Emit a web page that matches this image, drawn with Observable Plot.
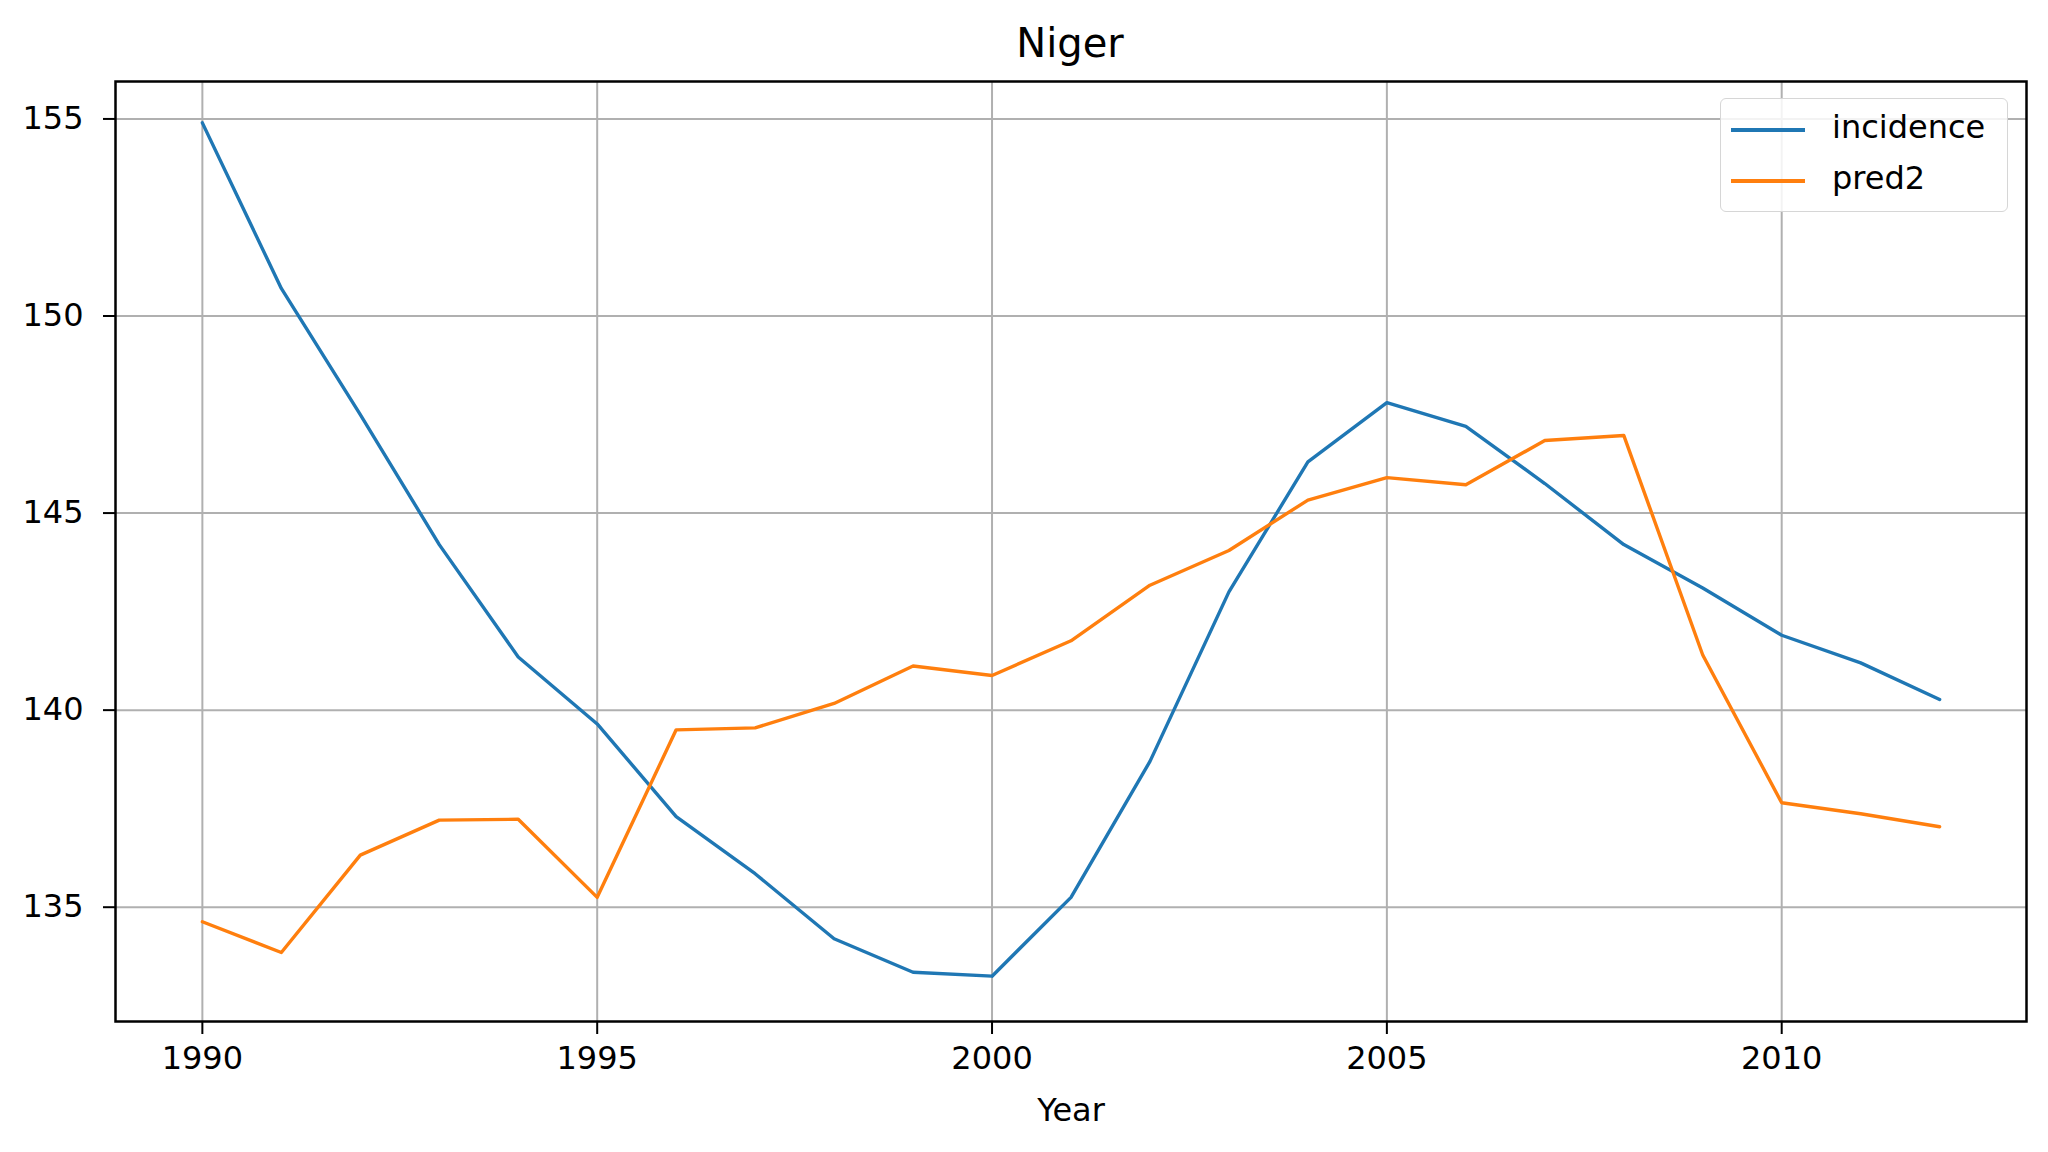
<!DOCTYPE html>
<html>
<head>
<meta charset="utf-8">
<script src="https://cdn.jsdelivr.net/npm/d3@7"></script>
<script src="https://cdn.jsdelivr.net/npm/@observablehq/plot@0.6"></script>
<style>
  html, body { margin: 0; padding: 0; background: #fff; }
  body { width: 2048px; height: 1152px; overflow: hidden; font-family: "DejaVu Sans", sans-serif; color: #000; }
  #wrap { position: relative; width: 2048px; height: 1152px; }
  #title { position: absolute; left: 115px; width: 1910px; top: 23px; text-align: center; font-size: 40px; line-height: 40px; }
  #xlabel { position: absolute; left: 115px; width: 1912px; top: 1094px; text-align: center; font-size: 32px; line-height: 32px; }
  #legend { position: absolute; left: 1720px; top: 98px; width: 286px; height: 112px; border: 1.5px solid #d6d6d6; border-radius: 6px; background: rgba(255,255,255,0.85); }
  .row { position: absolute; left: 0; height: 40px; width: 286px; }
  .swatch { position: absolute; left: 10px; width: 74px; height: 3.5px; }
  .lab { position: absolute; left: 111px; font-size: 32px; line-height: 32px; }
</style>
</head>
<body>
<div id="wrap">
  <div id="chart"></div>
  <div id="title"></div>
  <div id="xlabel"></div>
  <div id="legend"></div>
</div>
<script>
const chartTitle = "Niger";
const xLabel = "Year";
const years = [1990,1991,1992,1993,1994,1995,1996,1997,1998,1999,2000,2001,2002,2003,2004,2005,2006,2007,2008,2009,2010,2011,2012];
const incidence = [154.9,150.7,147.5,144.2,141.35,139.65,137.3,135.85,134.2,133.35,133.25,135.25,138.7,143.0,146.3,147.8,147.2,145.75,144.2,143.1,141.9,141.2,140.27];
const pred2 = [134.63,133.85,136.32,137.21,137.23,135.25,139.5,139.55,140.17,141.12,140.88,141.76,143.17,144.05,145.33,145.9,145.72,146.84,146.97,141.4,137.65,137.37,137.04];
const seriesNames = ["incidence", "pred2"];
const seriesColors = ["#1f77b4", "#ff7f0e"];
const xTicks = [1990, 1995, 2000, 2005, 2010];
const yTicks = [135, 140, 145, 150, 155];

const seriesValues = [incidence, pred2];
const data = [];
seriesNames.forEach((name, s) => {
  years.forEach((yr, i) => data.push({year: yr, value: seriesValues[s][i], series: name}));
});

const chart = Plot.plot({
  width: 2048,
  height: 1152,
  marginLeft: 115,
  marginRight: 22,
  marginTop: 81,
  marginBottom: 131,
  style: {fontFamily: "DejaVu Sans", fontSize: "32px", color: "#000", background: "#fff"},
  x: {domain: [1988.9, 2013.1]},
  y: {domain: [132.1, 155.95]},
  color: {domain: seriesNames, range: seriesColors},
  marks: [
    Plot.gridX(xTicks, {stroke: "#b0b0b0", strokeOpacity: 1, strokeWidth: 2}),
    Plot.gridY(yTicks, {stroke: "#b0b0b0", strokeOpacity: 1, strokeWidth: 2}),
    Plot.axisX(xTicks, {tickSize: 13, tickPadding: 12, label: null, tickFormat: d => String(d), strokeWidth: 2, fontSize: 32}),
    Plot.axisY(yTicks, {tickSize: 12, tickPadding: 20, label: null, tickFormat: d => String(d), strokeWidth: 2, fontSize: 32}),
    Plot.line(data, {x: "year", y: "value", z: "series", stroke: "series", strokeWidth: 3.4}),
    Plot.frame({stroke: "#000", strokeWidth: 2.5})
  ]
});
document.getElementById("chart").appendChild(chart);
document.getElementById("title").textContent = chartTitle;
document.getElementById("xlabel").textContent = xLabel;

const legend = document.getElementById("legend");
seriesNames.forEach((name, i) => {
  const row = document.createElement("div");
  row.className = "row";
  row.style.top = (10 + i * 51) + "px";
  const sw = document.createElement("div");
  sw.className = "swatch";
  sw.style.top = "19px";
  sw.style.background = seriesColors[i];
  const lab = document.createElement("div");
  lab.className = "lab";
  lab.style.top = "2px";
  lab.textContent = name;
  row.appendChild(sw);
  row.appendChild(lab);
  legend.appendChild(row);
});
</script>
</body>
</html>
